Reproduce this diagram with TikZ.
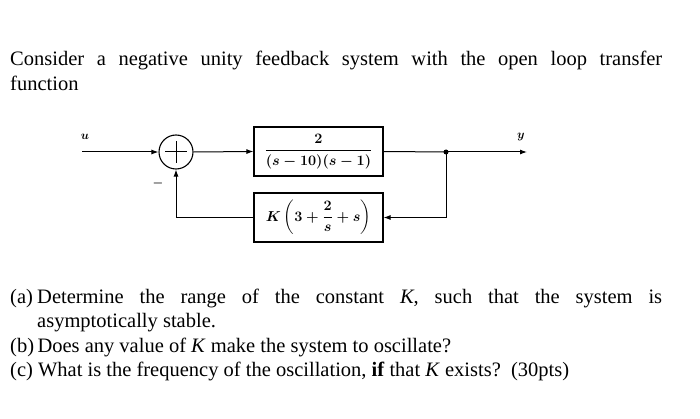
\documentclass[tikz,border=0pt]{standalone}
\usepackage{amsmath}
\usepackage{fontspec}
\setmainfont{Liberation Serif}
\usetikzlibrary{arrows.meta}
\begin{document}
\begin{tikzpicture}[x=1pt,y=-1pt,
  txt/.style={anchor=base west,inner sep=0pt,font=\fontsize{20.5}{24}\selectfont},
  blk/.style={draw,line width=1.1pt,minimum width=129pt,minimum height=49pt,inner sep=0pt,font=\fontsize{15}{17}\selectfont\boldmath},
  sig/.style={line width=1pt,-{Latex[length=7pt,width=5pt]}},
  ln/.style={line width=1pt},
  lab/.style={font=\fontsize{13}{15}\selectfont\boldmath,inner sep=0pt}]
\useasboundingbox (0,0) rectangle (700,419);
% text
\node[txt] (t1) at (10,66) {\makebox[652pt][s]{Consider a negative unity feedback system with the open loop transfer}};
\node[txt] (t2) at (10,91) {function};
% diagram
\coordinate (u) at (82,152);
\node[draw,circle,line width=1.1pt,minimum size=34pt,inner sep=0pt] (sum) at (176,152) {};
\draw[ln] ([yshift=-11]sum.center)--([yshift=11]sum.center) ([xshift=-11]sum.center)--([xshift=11]sum.center);
\node[blk] (g) at (318.5,151.5) {$\dfrac{2}{(s-10)(s-1)}$};
\node[blk] (h) at (318.5,217.5) {$K\left(3+\dfrac{2}{s}+s\right)$};
\fill (446,152) circle (2.5pt) coordinate (d);
\coordinate (yend) at (527,152);
\draw[sig] (u) -- (sum.west);
\draw[sig] (sum.east) -- (g.west);
\draw[ln] (g.east) -- (d);
\draw[sig] (d) -- (yend);
\draw[sig] (d) |- (h.east);
\draw[sig] (h.west) -| (sum.south);
\node[lab] (ul) at (85,137) {$u$};
\node[lab] (yl) at (521,137) {$y$};
\node[lab] (mi) at (158,184) {$-$};
% questions
\node[txt] (qa) at (10,303) {(a)};
\node[txt] (qa1) at (37,303) {\makebox[625pt][s]{Determine the range of the constant \textit{K}, such that the system is}};
\node[txt] (qa2) at (37,327) {asymptotically stable.};
\node[txt] (qb) at (10,352) {(b)\,Does any value of \textit{K} make the system to oscillate?};
\node[txt] (qc) at (10,376) {(c) What is the frequency of the oscillation, \textbf{if} that \textit{K} exists?\ \ (30pts)};
\end{tikzpicture}
\end{document}
